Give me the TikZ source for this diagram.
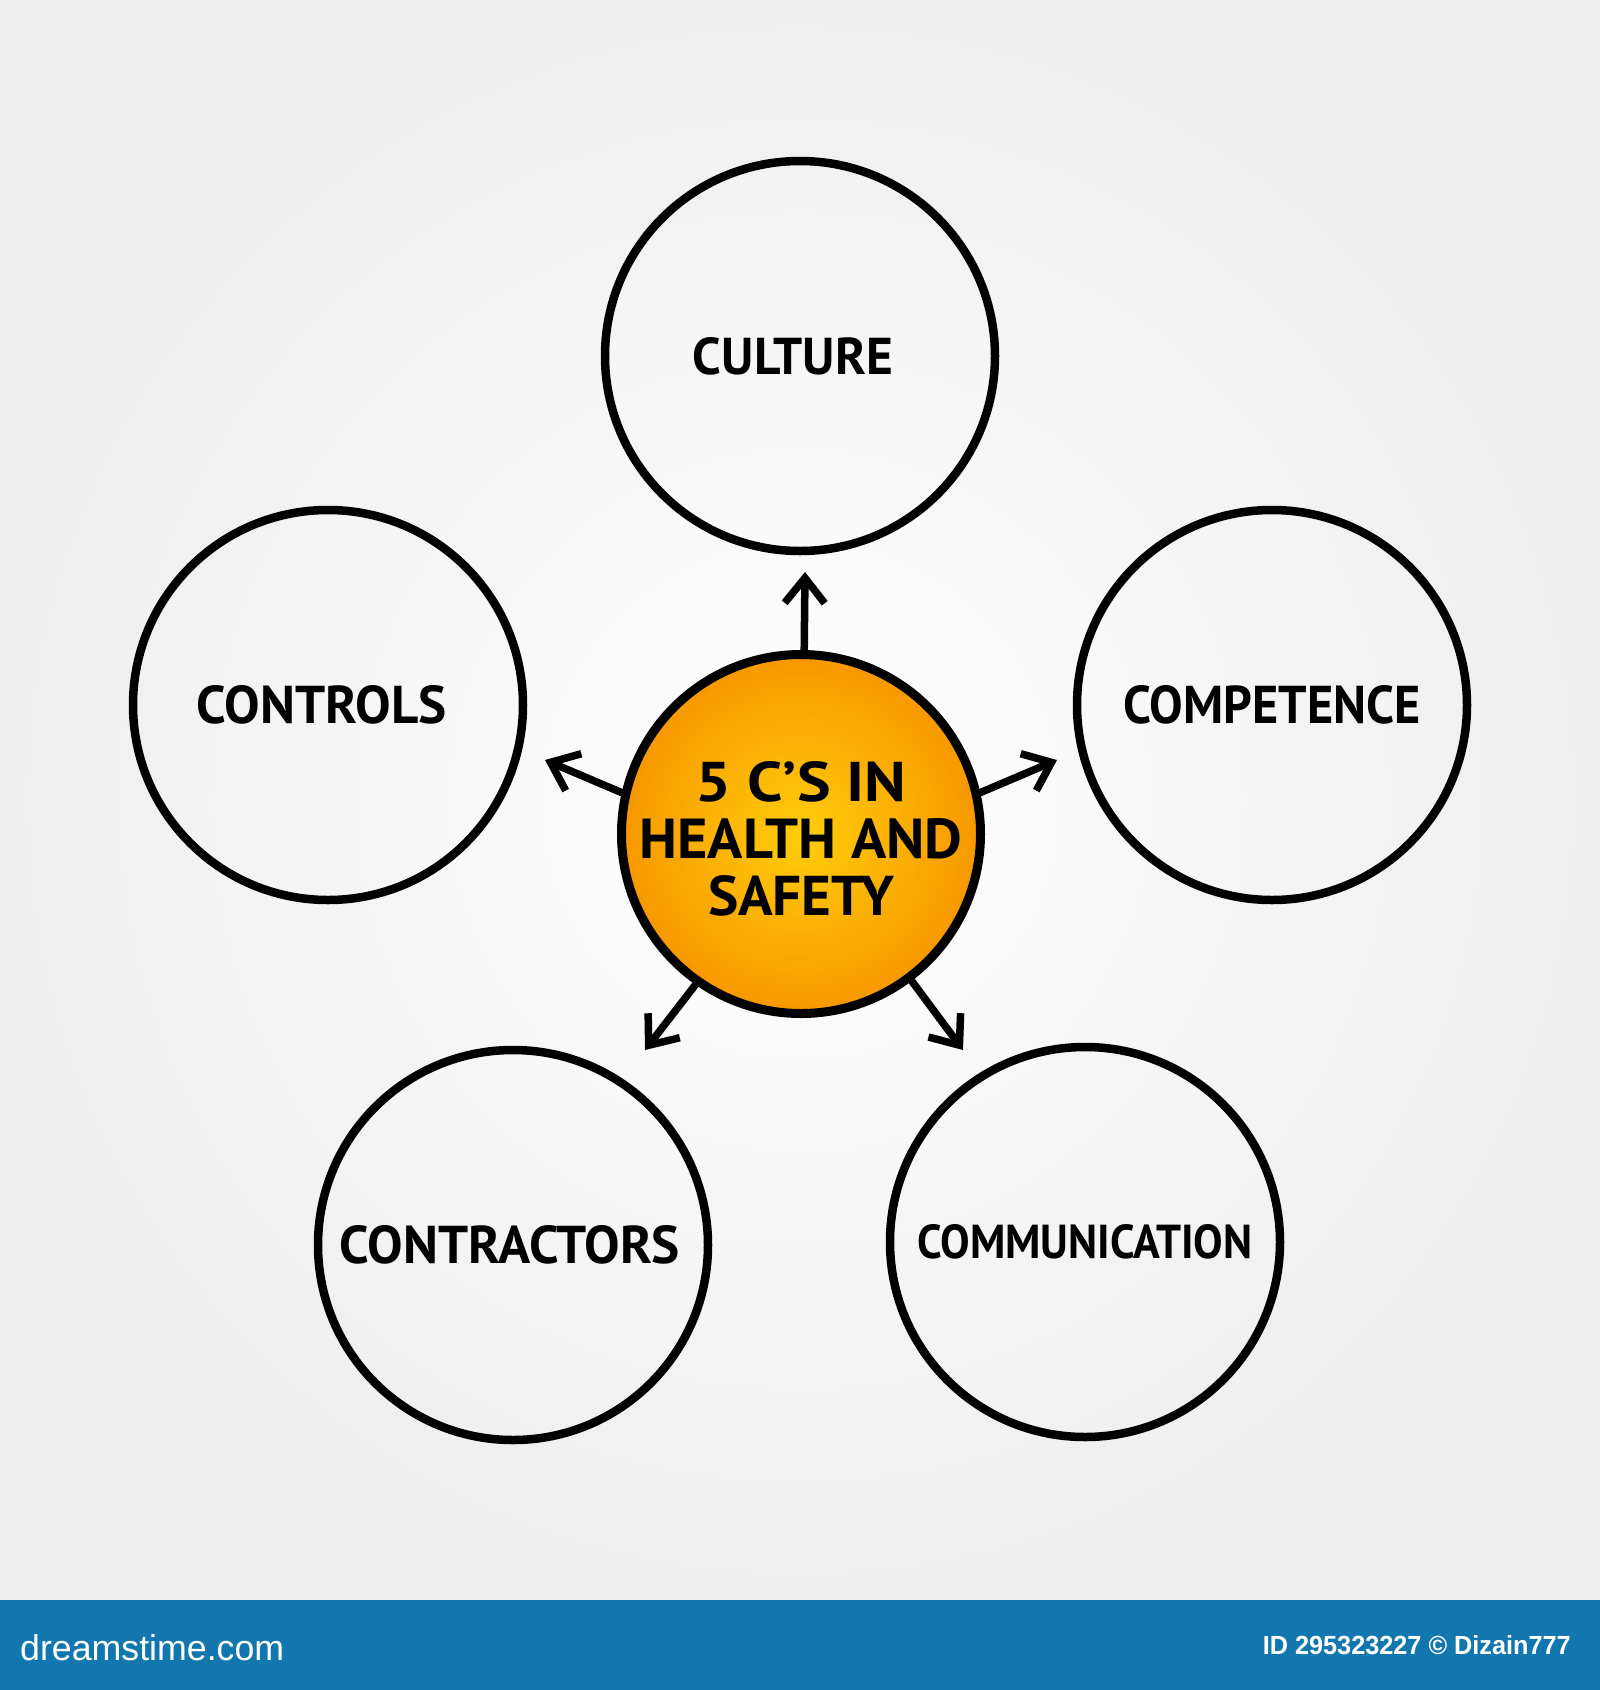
\documentclass[tikz,border=0pt]{standalone}
\usepackage{fontspec}
\setmainfont{PT Sans}
\newfontfamily\barfont{Liberation Sans}
\usetikzlibrary{arrows.meta}
\definecolor{bgray}{HTML}{EEEEEE}
\definecolor{hubin}{RGB}{255,205,10}
\definecolor{hubout}{RGB}{247,152,0}
\definecolor{barblue}{RGB}{17,119,174}
\newcommand\fitlbl[3]{\resizebox{#1pt}{#2pt}{#3}}
\begin{document}
\begin{tikzpicture}[x=1pt,y=-1pt,
  bubble/.style={circle,draw=black,line width=8.5pt,minimum size=390pt,inner sep=0pt,font=\bfseries},
  hub/.style={circle,draw=black,line width=9pt,minimum size=359pt,inner sep=0pt,
    inner color=hubin,outer color=hubout,font=\bfseries\fontsize{40}{57}\selectfont},
  arr/.style={line width=7.5pt,line cap=round,line join=round,-{Straight Barb[length=25pt,width=40pt]}},
  bartext/.style={text=white,inner sep=0pt}]
\useasboundingbox (0,0) rectangle (1600,1690);
\fill[inner color=white,outer color=bgray] (0,0) rectangle (1600,1600);
\fill[barblue] (0,1600) rectangle (1600,1690);

\node[bubble] (culture) at (800,356) {\fitlbl{200}{37}{CULTURE}\hspace*{14pt}};
\node[bubble] (controls) at (328,705) {\fitlbl{250}{38}{CONTROLS}\hspace*{12pt}};
\node[bubble] (competence) at (1272,705) {\fitlbl{297}{38}{COMPETENCE}};
\node[bubble] (contractors) at (513,1245) {\fitlbl{340}{38}{CONTRACTORS}\hspace*{6pt}};
\node[bubble] (communication) at (1085,1242) {\fitlbl{335}{34}{COMMUNICATION}};
\node[hub] (hub) at (801,834) {\makebox[0pt]{\begin{tabular}{@{}c@{}}\rule{0pt}{66pt}\fitlbl{211}{40}{5 C’S IN}\\ \fitlbl{323}{40}{HEALTH AND}\\ \fitlbl{186}{40}{SAFETY}\end{tabular}}};

\coordinate (tU) at (805,572);
\coordinate (tL) at (545,760);
\coordinate (tR) at (1057,760);
\coordinate (tDL) at (645,1050);
\coordinate (tDR) at (963,1050);
\draw[arr] (hub.89) -- (tU);
\draw[arr] (hub.167) -- (tL);
\draw[arr] (hub.13.6) -- (tR);
\draw[arr] (hub.235.4) -- (tDL);
\draw[arr] (hub.307) -- (tDR);

\node[bartext,anchor=west] (brand) at (20,1648) {\barfont\resizebox{264pt}{!}{dreamstime.com}};
\node[bartext,anchor=east] (credit) at (1571,1645) {\barfont\bfseries\resizebox{308pt}{19pt}{ID 295323227 © Dizain777}};
\end{tikzpicture}
\end{document}
